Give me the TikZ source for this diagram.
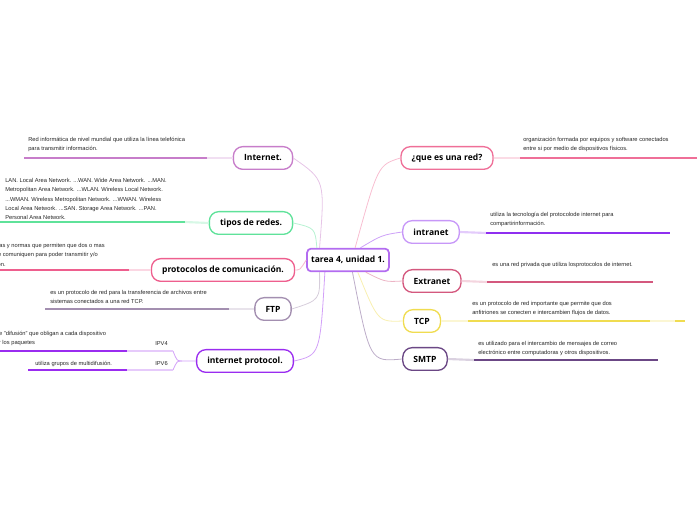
\documentclass[tikz,border=0pt]{standalone}
\usepackage{fontspec}
\setmainfont{Liberation Sans}
\newfontfamily\labfont{Open Sans}
\begin{document}
\begin{tikzpicture}[x=0.75pt,y=-0.75pt,
  topic/.style={draw=#1,line width=1pt,rounded corners=7pt,fill=white,minimum height=17pt,inner xsep=8pt,font=\labfont\bfseries\fontsize{6.4}{8}\selectfont},
  desc/.style={anchor=north west,align=left,inner sep=0pt,font=\fontsize{4.3}{7}\selectfont,text=black!85},
  conn/.style={draw=#1!45,line width=0.6pt},
  ul/.style={draw=#1,line width=1.6pt},
  ull/.style={draw=#1!25,line width=1.6pt}]
\definecolor{cint}{HTML}{C77DCA}\definecolor{ctip}{HTML}{5FE29A}\definecolor{cpro}{HTML}{EE5F8E}
\definecolor{cftp}{HTML}{A38FB0}\definecolor{cip}{HTML}{9A2CF0}\definecolor{cred}{HTML}{EF6F98}
\definecolor{cintra}{HTML}{8F2FF0}\definecolor{cext}{HTML}{D4587E}\definecolor{ctcp}{HTML}{F0DC50}
\definecolor{csmtp}{HTML}{6B4785}\definecolor{croot}{HTML}{B36CF0}
\useasboundingbox (0,0) rectangle (697,520);
\node[topic=croot,line width=1.3pt,rounded corners=3pt,inner xsep=3pt] (root) at (348,260) {tarea 4, unidad 1.};
\node[topic=cint] (int) at (263,158) {Internet.};
\node[topic=ctip] (tip) at (251,223) {tipos de redes.};
\node[topic=cpro] (pro) at (223,270) {protocolos de comunicación.};
\node[topic=cftp] (ftp) at (273,309) {FTP};
\node[topic=cip] (ip) at (245,361) {internet protocol.};
\node[topic=cred] (red) at (447,158) {¿que es una red?};
\node[topic=cintra!50] (intra) at (431,232) {intranet};
\node[topic=cext] (ext) at (432,281) {Extranet};
\node[topic=ctcp] (tcp) at (422,321) {TCP};
\node[topic=csmtp] (smtp) at (425,359) {SMTP};
% connectors
\draw[conn=cint] ([xshift=10pt]root.north west) .. controls (325,180) .. (int.east);
\draw[conn=ctip] ([xshift=8pt]root.north west) .. controls (315,228) .. (tip.east);
\draw[conn=cpro] (root.west) .. controls (300,270) .. (pro.east);
\draw[conn=cftp] ([xshift=10pt]root.south west) .. controls (320,300) .. (ftp.east);
\draw[conn=cip] ([xshift=14pt]root.south west) .. controls (320,355) .. (ip.east);
\draw[conn=cred] ([xshift=-26pt]root.north east) .. controls (378,165) .. (red.west);
\draw[conn=cintra] ([xshift=-22pt]root.north east) .. controls (382,235) .. (intra.west);
\draw[conn=cext] ([xshift=-18pt]root.south east) .. controls (385,282) .. (ext.west);
\draw[conn=ctcp] ([xshift=-24pt]root.south east) .. controls (378,322) .. (tcp.west);
\draw[conn=csmtp] ([xshift=-28pt]root.south east) .. controls (370,362) .. (smtp.west);
% left underlines
\draw[ull=cint] (int.west) -- (207,158); \draw[ul=cint] (207,158) -- (24,158);
\draw[ull=ctip] (tip.west) -- (185,222); \draw[ul=ctip] (185,222) -- (0,222);
\draw[ull=cpro] (pro.west) -- (129,270); \draw[ul=cpro] (129,270) -- (0,270);
\draw[ull=cftp] (ftp.west) -- (229,309); \draw[ul=cftp] (229,309) -- (45,309);
\coordinate (ipj) at (182,361); \coordinate (ip4) at (173,351); \coordinate (ip6) at (173,370);
\draw[conn=cip] (ip.west) -- (ipj) .. controls (177,361) .. (ip4);
\draw[conn=cip] (ipj) .. controls (177,361) .. (ip6);
\draw[ull=cip] (ip4) -- (127,351); \draw[ul=cip] (127,351) -- (0,351);
\draw[ull=cip] (ip6) -- (127,370); \draw[ul=cip] (127,370) -- (28,370);
% right underlines
\draw[ull=cred] (red.east) -- (520,158); \draw[ul=cred] (520,158) -- (697,158);
\draw[ull=cintra] (intra.east) -- (486,233); \draw[ul=cintra] (486,233) -- (670,233);
\draw[ull=cext] (ext.east) -- (487,282); \draw[ul=cext] (487,282) -- (653,282);
\draw[ull=ctcp] (tcp.east) -- (468,321); \draw[ul=ctcp] (468,321) -- (650,321); \draw[ull=ctcp] (650,321) -- (675,321); \draw[ul=ctcp] (675,321) -- (685,321);
\draw[ull=csmtp] (smtp.east) -- (474,360); \draw[ul=csmtp] (474,360) -- (658,360);
% texts
\node[desc] (t1) at (28,137) {Red informática de nivel mundial que utiliza la línea telefónica\\para transmitir información.};
\node[desc] (t2) at (5,178) {LAN. Local Area Network. ...WAN. Wide Area Network. ...MAN.\\Metropolitan Area Network. ...WLAN. Wireless Local Network.\\...WMAN. Wireless Metropolitan Network. ...WWAN. Wireless\\Local Area Network. ...SAN. Storage Area Network. ...PAN.\\Personal Area Network.};
\node[desc] (t3) at (-43,243) {Conjunto de reglas y normas que permiten que dos o mas\\computadoras se comuniquen para poder transmitir y/o\\recibir información.};
\node[desc] (t4) at (50,290) {es un protocolo de red para la transferencia de archivos entre\\sistemas conectados a una red TCP.};
\node[desc] (t5) at (-52,331) {Utiliza direcciones de "difusión" que obligan a cada dispositivo\\a detener y procesar los paquetes};
\node[desc] (ipv4) at (155,341) {IPV4};
\node[desc] (ipv6) at (155,361) {IPV6};
\node[desc] (t6) at (35,361) {utiliza grupos de multidifusión.};
\node[desc] (t7) at (523,137) {organización formada por equipos y software conectados\\entre si por medio de dispositivos físicos.};
\node[desc] (t8) at (490,212) {utiliza la tecnología del protocolode internet para\\compartirinformación.};
\node[desc] (t9) at (492,262) {es una red privada que utiliza losprotocolos de internet.};
\node[desc] (t10) at (472,301) {es un protocolo de red importante que permite que dos\\anfitriones se conecten e intercambien flujos de datos.};
\node[desc] (t11) at (478,341) {es utilizado para el intercambio de mensajes de correo\\electrónico entre computadoras y otros dispositivos.};
\end{tikzpicture}
\end{document}
